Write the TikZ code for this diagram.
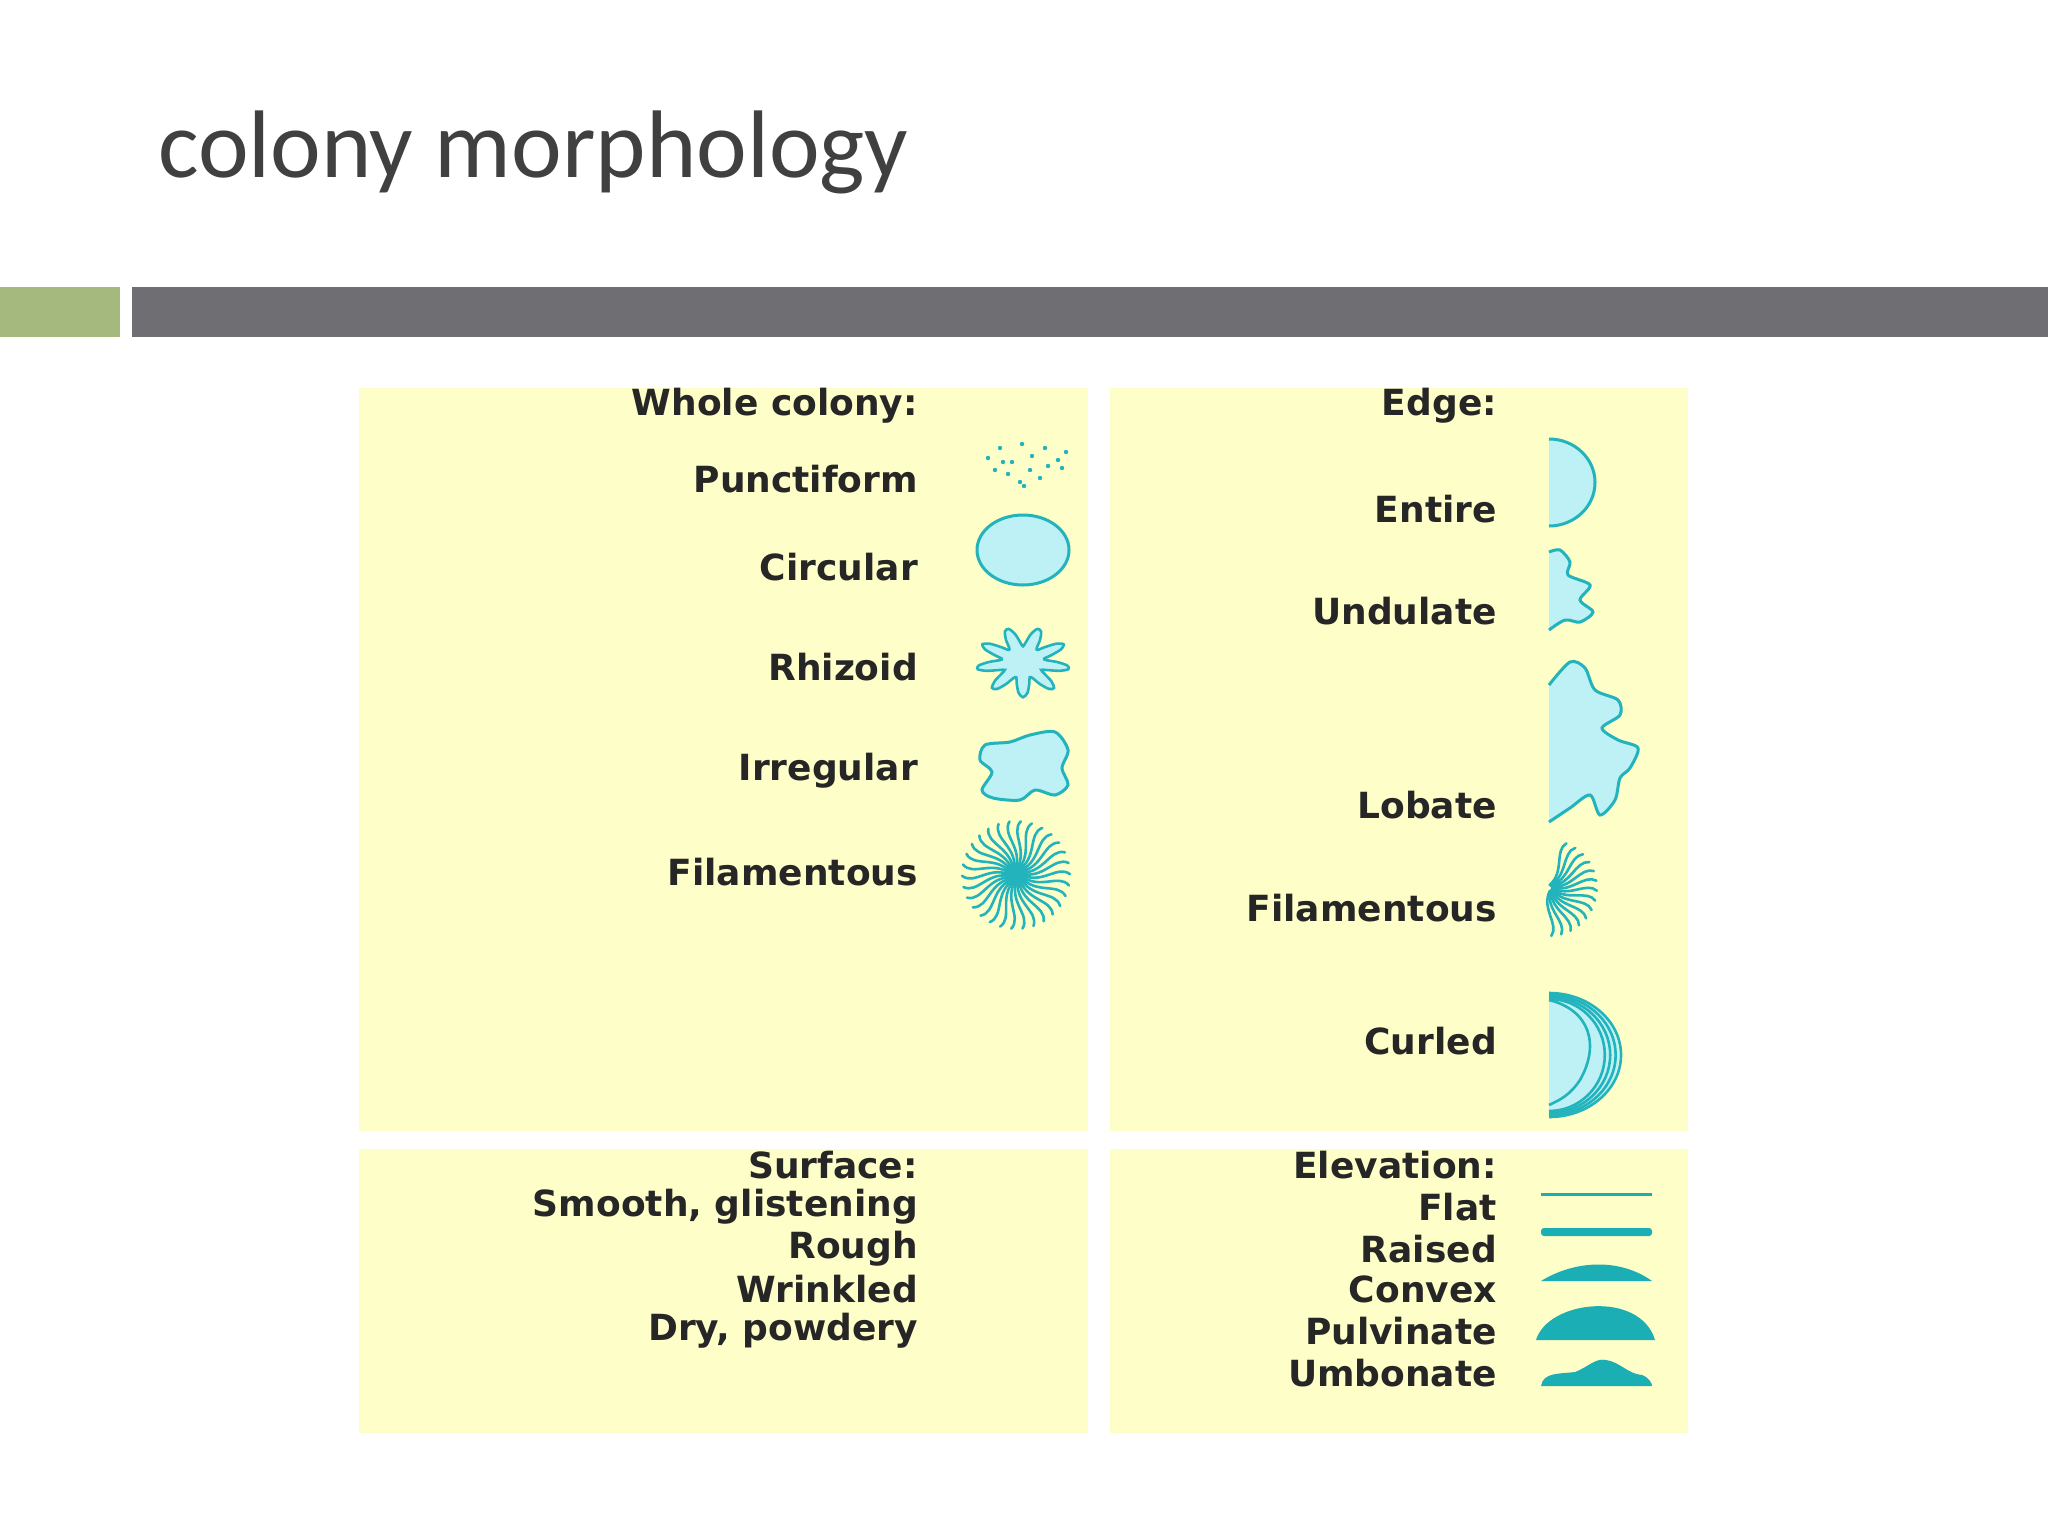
\documentclass[tikz,border=0pt]{standalone}
\usepackage{fontspec}
\setmainfont{DejaVu Sans}
\newfontfamily\titlefont{Carlito}
\begin{document}
\begin{tikzpicture}[x=1pt,y=-1pt,
  lbl/.style={anchor=east,inner sep=0,font=\bfseries\fontsize{36}{40}\selectfont,text=black!85},
  panel/.style={fill=yfill,draw=none},
  colony/.style={fill=cfill,draw=cedge,line width=3},
  fil/.style={draw=cedge,line width=2.6,line cap=round}]
\definecolor{yfill}{HTML}{FEFEC8}
\definecolor{cfill}{HTML}{BDF1F5}
\definecolor{cedge}{HTML}{22B3BC}
\definecolor{efill}{HTML}{1BAEB4}
\definecolor{gbar}{HTML}{A5B97F}
\definecolor{dbar}{HTML}{6E6E73}
\useasboundingbox[fill=white] (0,0) rectangle (2048,1536);
\node[anchor=west,inner sep=0,text=black!75,font=\titlefont\fontsize{96}{104}\selectfont] (title) at (158,152) {colony morphology};
\fill[gbar] (0,287) rectangle (120,337);
\fill[dbar] (132,287) rectangle (2048,337);
\fill[panel] (359,388) rectangle (1088,1131);
\fill[panel] (1110,388) rectangle (1688,1131);
\fill[panel] (359,1149) rectangle (1088,1433);
\fill[panel] (1110,1149) rectangle (1688,1433);
% left labels
\node[lbl] (wc) at (918,406) {Whole colony:};
\node[lbl] (pu) at (918,479) {Punctiform};
\node[lbl] (ci) at (918,567) {Circular};
\node[lbl] (rh) at (918,667) {Rhizoid};
\node[lbl] (ir) at (918,771) {Irregular};
\node[lbl] (fi) at (918,872) {Filamentous};
% right labels
\node[lbl] (ed) at (1497,406) {Edge:};
\node[lbl] (en) at (1497,509) {Entire};
\node[lbl] (un) at (1497,611) {Undulate};
\node[lbl] (lo) at (1497,805) {Lobate};
\node[lbl] (fe) at (1497,908) {Filamentous};
\node[lbl] (cu) at (1497,1041) {Curled};
% bottom left
\node[lbl] (su) at (918,1165) {Surface:};
\node[lbl] (sm) at (918,1207) {Smooth, glistening};
\node[lbl] (ro) at (918,1249) {Rough};
\node[lbl] (wr) at (918,1289) {Wrinkled};
\node[lbl] (dr) at (918,1331) {Dry, powdery};
% bottom right
\node[lbl] (el) at (1497,1165) {Elevation:};
\node[lbl] (fl) at (1497,1207) {Flat};
\node[lbl] (ra) at (1497,1249) {Raised};
\node[lbl] (cv) at (1497,1289) {Convex};
\node[lbl] (pv) at (1497,1331) {Pulvinate};
\node[lbl] (ub) at (1497,1373) {Umbonate};
% punctiform dots
\foreach \p in {(988,458),(1000,448),(1012,462),(1022,444),(1032,456),(1045,448),(1058,460),(1066,452),(995,470),(1008,474),(1030,470),(1048,466),(1040,478),(1020,482),(1024,486),(1062,468),(1003,462)}
  \fill[cedge] \p circle (2.2);
% circular
\draw[colony] (1023,550) ellipse (46 and 35);
% rhizoid
\draw[colony,line width=2.6] plot[smooth cycle,samples=60,domain=0:354] ({1023+cos(\x)*(34+13*sin(9*\x))},{662+0.75*sin(\x)*(34+13*sin(9*\x))});
% irregular
\draw[colony] plot[smooth cycle] coordinates {(985,745) (1010,742) (1030,735) (1055,732) (1068,750) (1062,768) (1068,785) (1055,795) (1035,790) (1020,800) (993,798) (982,790) (992,772) (980,760)};
% filamentous left
\foreach \a in {0,12,...,348}
  \draw[fil] (1016,875) ++(\a:4) .. controls +(\a+40:25) and +(\a+230:16) .. ++(\a+12:50);
\fill[cedge] (1016,875) circle (12);
% entire
\draw[colony] (1549,439) arc(-90:90:46 and 43.5);
% undulate
\draw[colony] plot[smooth] coordinates {(1549,552) (1560,550) (1570,562) (1568,575) (1590,585) (1580,600) (1593,612) (1580,622) (1565,620) (1549,630)};
% lobate
\draw[colony] plot[smooth] coordinates {(1549,685) (1570,662) (1585,668) (1595,690) (1618,700) (1620,715) (1602,728) (1618,740) (1638,748) (1630,768) (1620,778) (1615,800) (1600,815) (1590,795) (1570,808) (1549,822)};
% filamentous right
\foreach \a in {-80,-68,...,80}
  \draw[fil] (1549,888) ++(\a:3) .. controls +(\a+40:20) and +(\a+230:14) .. ++(\a+12:45);
% curled
\fill[cfill] (1549,993) arc(-90:90:70 and 62);
\foreach \r/\s in {62/56,68/58,74/60,80/62}
  \draw[cedge,line width=2.6] (1549,1055) ++(0,-\s) arc(-90:90:\r*0.9 and \s);
\draw[cedge,line width=2.6] (1549,1000) .. controls (1590,1010) and (1600,1045) .. (1580,1080) .. controls (1570,1095) and (1560,1100) .. (1549,1105);
% elevation
\draw[efill,line width=3] (1541,1194) -- (1652,1194);
\fill[efill,rounded corners=3] (1541,1228) rectangle (1652,1236);
\fill[efill] (1541,1281) .. controls (1575,1260) and (1620,1258) .. (1652,1281) -- cycle;
\fill[efill] (1536,1340) .. controls (1548,1300) and (1640,1290) .. (1655,1340) -- cycle;
\fill[efill] (1541,1386) .. controls (1543,1372) and (1560,1374) .. (1575,1372) .. controls (1590,1366) and (1595,1358) .. (1606,1360) .. controls (1620,1362) and (1628,1374) .. (1642,1375) .. controls (1650,1378) and (1652,1384) .. (1652,1386) -- cycle;
\end{tikzpicture}
\end{document}
